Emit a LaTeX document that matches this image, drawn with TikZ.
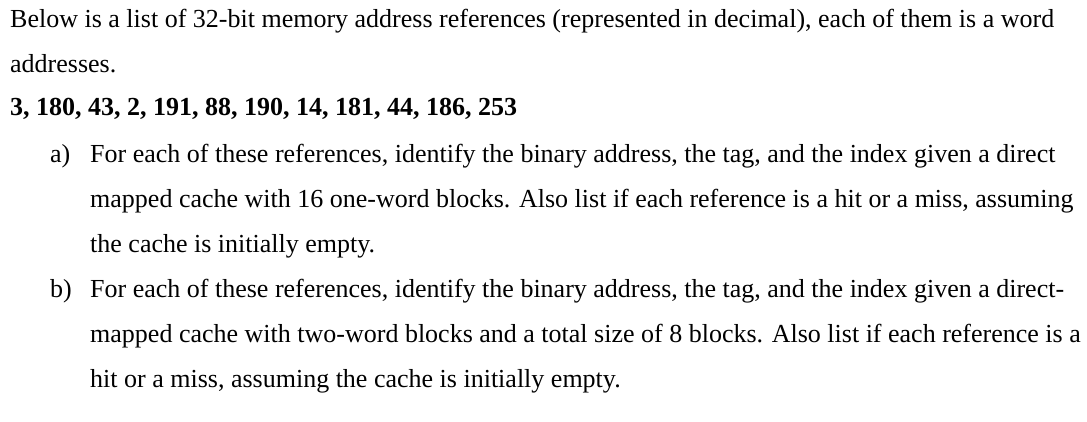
\documentclass[tikz,border=0pt]{standalone}
\usepackage{fontspec}
\setmainfont{Liberation Serif}
\begin{document}
\begin{tikzpicture}[x=1pt,y=1pt,
  ln/.style={anchor=base west,inner sep=0pt,font=\fontsize{26}{30}\selectfont}]
\useasboundingbox (0,0) rectangle (1087,-421);
\node[ln] (l1) at (10,-27) {Below is a list of 32-bit memory address references (represented in decimal), each of them is a word};
\node[ln] (l2) at (10,-72) {addresses.};
\node[ln,font=\fontsize{26}{30}\selectfont\bfseries] (l3) at (10,-115) {3, 180, 43, 2, 191, 88, 190, 14, 181, 44, 186, 253};
\node[ln] (a) at (50,-162) {a)};
\node[ln] (a1) at (90,-162) {For each of these references, identify the binary address, the tag, and the index given a direct};
\node[ln] (a2) at (90,-207) {mapped cache with 16 one-word blocks. Also list if each reference is a hit or a miss, assuming};
\node[ln] (a3) at (90,-252) {the cache is initially empty.};
\node[ln] (b) at (50,-297) {b)};
\node[ln] (b1) at (90,-297) {For each of these references, identify the binary address, the tag, and the index given a direct-};
\node[ln] (b2) at (90,-342) {mapped cache with two-word blocks and a total size of 8 blocks. Also list if each reference is a};
\node[ln] (b3) at (90,-387) {hit or a miss, assuming the cache is initially empty.};
\end{tikzpicture}
\end{document}
